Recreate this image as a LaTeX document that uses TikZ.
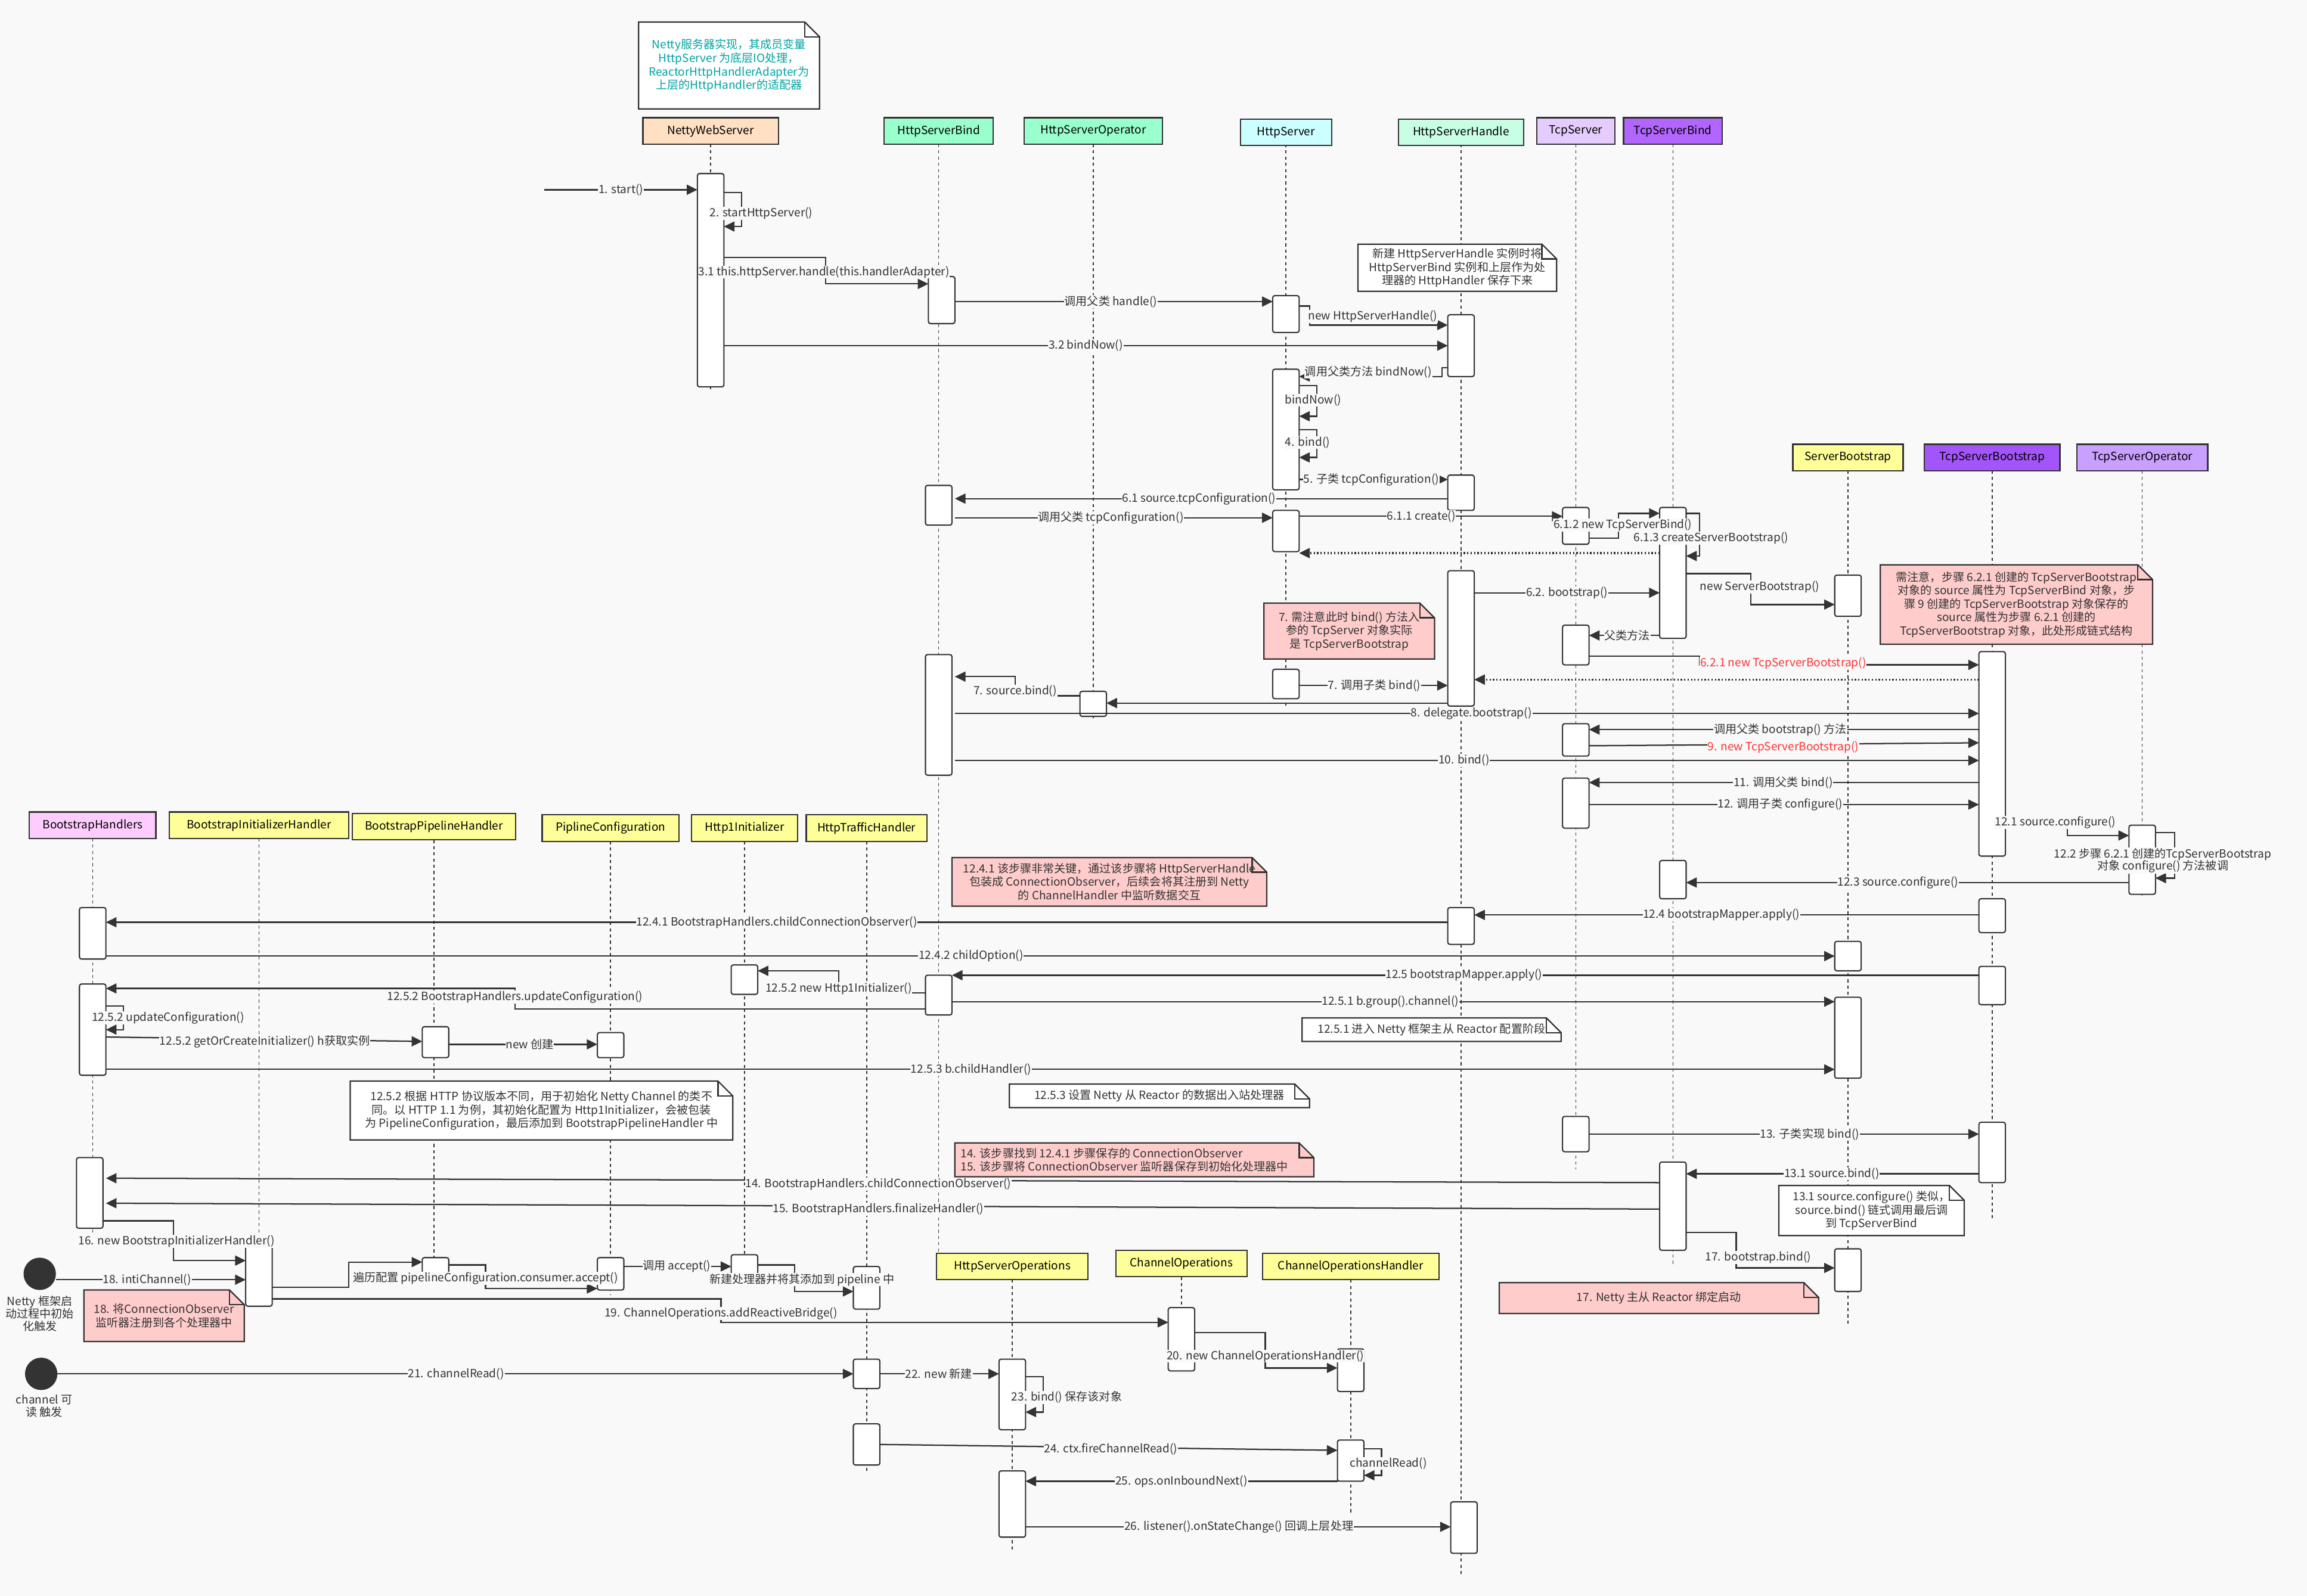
\documentclass[tikz,border=0pt]{standalone}
\usepackage{fontspec}
\setmainfont{Noto Sans CJK SC}
\usetikzlibrary{arrows.meta,shapes.misc}
\definecolor{bg}{HTML}{F9F9F9}
\definecolor{peach}{HTML}{FFE0C2}
\definecolor{mint}{HTML}{99FFCC}
\definecolor{mintl}{HTML}{C8FFE4}
\definecolor{cyanl}{HTML}{CCFFFF}
\definecolor{lav}{HTML}{E5CCFF}
\definecolor{purp}{HTML}{B266FF}
\definecolor{purpd}{HTML}{A455FA}
\definecolor{purpl}{HTML}{C9A0FF}
\definecolor{pinkh}{HTML}{FFCCFF}
\definecolor{yel}{HTML}{FFFF99}
\definecolor{notep}{HTML}{FFCCCC}
\definecolor{tealt}{HTML}{00A3A3}
\definecolor{ln}{HTML}{333333}
\definecolor{redt}{HTML}{FF3333}
\tikzset{
 head/.style={draw=ln,line width=1.3pt,minimum height=0.9cm,inner sep=1pt,font=\fontsize{11}{12}\selectfont},
 act/.style={draw=ln,fill=white,rounded corners=2pt,line width=1.2pt},
 life/.style={draw=ln,dashed,dash pattern=on 3pt off 3pt,line width=0.9pt},
 msg/.style={draw=ln,line width=1.3pt,-{Triangle[length=0.36cm,width=0.34cm]}},
 ret/.style={msg,dotted,line width=1.8pt},
 lbl/.style={fill=bg,inner sep=0.5pt,font=\fontsize{11}{12}\selectfont,text=ln},
 note/.style={draw=ln,line width=1.2pt,align=center,font=\fontsize{11}{13}\selectfont,inner sep=3pt,text=ln},
}
\newcommand{\hdx}[6]{\node[head,fill=#5,minimum width=#4*0.05cm] (#1) at (#2,#3) {#6};}
\newcommand{\lfl}[3]{\draw[life] (#1,#2) -- (#1,#3);}
\newcommand{\acx}[3]{\draw[act] ({#1-9},#2) rectangle ({#1+9},#3);}
\newcommand{\msgx}[5]{\draw[msg] (#1,#3) -- (#2,#3); \node[lbl] at (#4,#3) {#5};}
\newcommand{\slx}[5]{\draw[msg] (#1,#2) -- ({#1+12},#2) -- ({#1+12},#3) -- (#1,#3); \node[lbl,anchor=west] at ({#1-10},#4) {#5};}
\newcommand{\ntx}[7]{\draw[#6,line width=1.3pt,fill=#5] (#1,#2) -- ({#3-10},#2) -- (#3,{#2+10}) -- (#3,#4) -- (#1,#4) -- cycle; \draw[#6,line width=1.3pt] ({#3-10},#2) -- ({#3-10},{#2+10}) -- (#3,{#2+10}); \node[note,draw=none] at ({(#1+#3)/2},{(#2+#4)/2}) {#7};}
\begin{document}
\begin{tikzpicture}[x=0.05cm,y=-0.05cm]
\fill[bg] (0,0) rectangle (1568,1085);
\useasboundingbox (0,0) rectangle (1568,1085);
% lifelines
\lfl{483}{98}{265}\lfl{638}{98}{860}\lfl{743}{98}{490}\lfl{874}{98}{480}
\lfl{993}{98}{1070}\lfl{1071}{98}{795}\lfl{1137}{98}{860}
\lfl{1256}{320}{900}\lfl{1354}{320}{830}\lfl{1456}{320}{610}
\lfl{63}{570}{845}\lfl{176}{570}{890}\lfl{295}{571}{870}\lfl{415}{572}{880}
\lfl{506}{572}{870}\lfl{589}{572}{1000}
\lfl{688}{870}{1055}\lfl{803}{868}{930}\lfl{918}{870}{1030}
% headers
\hdx{nws}{483}{89}{92}{peach}{NettyWebServer}
\hdx{hsb}{638}{89}{74}{mint}{HttpServerBind}
\hdx{hso}{743}{89}{94}{mint}{HttpServerOperator}
\hdx{hs}{874}{90}{62}{cyanl}{HttpServer}
\hdx{hsh}{993}{90}{85}{mintl}{HttpServerHandle}
\hdx{ts}{1071}{89}{53}{lav}{TcpServer}
\hdx{tsb}{1137}{89}{67}{purp}{TcpServerBind}
\hdx{sb}{1256}{311}{75}{yel}{ServerBootstrap}
\hdx{tsbs}{1354}{311}{92}{purpd}{TcpServerBootstrap}
\hdx{tso}{1456}{311}{89}{purpl}{TcpServerOperator}
\hdx{bh}{63}{561}{86}{pinkh}{BootstrapHandlers}
\hdx{bih}{176}{561}{122}{yel}{BootstrapInitializerHandler}
\hdx{bph}{295}{562}{111}{yel}{BootstrapPipelineHandler}
\hdx{pc}{415}{563}{93}{yel}{PiplineConfiguration}
\hdx{h1}{506}{563}{72}{yel}{Http1Initializer}
\hdx{htf}{589}{563}{82}{yel}{HttpTrafficHandler}
\hdx{hsops}{688}{861}{103}{yel}{HttpServerOperations}
\hdx{cops}{803}{859}{89}{yel}{ChannelOperations}
\hdx{coh}{918}{861}{120}{yel}{ChannelOperationsHandler}
% activations
\acx{483}{118}{263}
\acx{640}{188}{220}\acx{638}{330}{357}\acx{638}{445}{527}\acx{638}{663}{690}
\acx{743}{470}{487}
\acx{874}{201}{226}\acx{874}{251}{333}\acx{874}{347}{375}\acx{874}{455}{475}
\acx{993}{214}{256}\acx{993}{323}{347}\acx{993}{388}{480}\acx{993}{617}{642}\acx{995}{1021}{1056}
\acx{1071}{345}{370}\acx{1071}{425}{452}\acx{1071}{492}{514}\acx{1071}{529}{563}\acx{1071}{759}{783}
\acx{1137}{345}{434}\acx{1137}{585}{611}\acx{1137}{790}{850}
\acx{1256}{391}{419}\acx{1256}{640}{660}\acx{1256}{678}{733}\acx{1256}{849}{878}
\acx{1354}{443}{582}\acx{1354}{611}{634}\acx{1354}{657}{683}\acx{1354}{763}{804}
\acx{1456}{561}{608}
\acx{63}{617}{652}\acx{63}{669}{731}\acx{61}{787}{835}
\acx{176}{840}{888}
\acx{296}{698}{719}\acx{296}{855}{868}
\acx{415}{702}{719}\acx{415}{855}{877}
\acx{506}{656}{676}\acx{506}{853}{867}
\acx{589}{861}{890}\acx{589}{924}{944}\acx{589}{968}{996}
\acx{688}{924}{972}\acx{688}{1000}{1045}
\acx{803}{889}{932}
\acx{918}{917}{946}\acx{918}{979}{1007}
% messages
\msgx{370}{474}{129}{422}{1. start()}
\slx{492}{131}{154}{145}{2. startHttpServer()}
\draw[msg] (492,175) -- (561,175) -- (561,193) -- (631,193); \node[lbl] at (560,185) {3.1 this.httpServer.handle(this.handlerAdapter)};
\msgx{649}{865}{205}{755}{调用父类 handle()}
\draw[msg] (883,208) -- (890,208) -- (890,221) -- (984,221); \node[lbl] at (933,215) {new HttpServerHandle()};
\msgx{492}{984}{235}{738}{3.2 bindNow()}
\draw[msg] (984,250) -- (980,250) -- (980,256) -- (883,256); \node[lbl] at (930,253) {调用父类方法 bindNow()};
\slx{883}{262}{283}{272}{bindNow()}
\slx{883}{292}{311}{301}{4. bind()}
\draw[msg] (883,326) -- (984,326); \node[lbl] at (932,326) {5. 子类 tcpConfiguration()};
\msgx{984}{649}{339}{815}{6.1 source.tcpConfiguration()}
\msgx{649}{865}{352}{755}{调用父类 tcpConfiguration()}
\msgx{883}{1062}{351}{966}{6.1.1 create()}
\draw[msg] (1080,366) -- (1100,366) -- (1100,349) -- (1128,349); \node[lbl] at (1103,357) {6.1.2 new TcpServerBind()};
\draw[msg] (1146,349) -- (1155,349) -- (1155,378) -- (1146,378); \node[lbl] at (1163,366) {6.1.3 createServerBootstrap()};
\draw[ret] (1128,376) -- (883,376);
\msgx{1002}{1128}{403}{1065}{6.2. bootstrap()}
\draw[msg] (1146,390) -- (1190,390) -- (1190,411) -- (1247,411); \node[lbl] at (1196,399) {new ServerBootstrap()};
\msgx{1128}{1080}{432}{1106}{父类方法}
\draw[msg] (1080,446) -- (1155,446) -- (1155,452) -- (1345,452); \node[lbl,text=redt] at (1212,451) {6.2.1 new TcpServerBootstrap()};
\draw[ret] (1345,462) -- (1002,462);
\msgx{883}{984}{466}{934}{7. 调用子类 bind()}
\draw[msg] (734,473) -- (690,473) -- (690,460) -- (649,460); \node[lbl] at (690,470) {7. source.bind()};
\draw[msg] (984,478) -- (752,478);
\msgx{649}{1345}{485}{1000}{8. delegate.bootstrap()}
\msgx{1345}{1080}{496}{1210}{调用父类 bootstrap() 方法}
\draw[msg] (1080,507) -- (1345,505); \node[lbl,text=redt] at (1212,508) {9. new TcpServerBootstrap()};
\msgx{649}{1345}{517}{995}{10. bind()}
\msgx{1345}{1080}{532}{1212}{11. 调用父类 bind()}
\msgx{1080}{1345}{547}{1210}{12. 调用子类 configure()}
\draw[msg] (1363,555) -- (1405,555) -- (1405,568) -- (1447,568); \node[lbl] at (1397,559) {12.1 source.configure()};
\draw[msg] (1465,566) -- (1478,566) -- (1478,597) -- (1465,597); \node[lbl,align=center] at (1470,585) {12.2 步骤 6.2.1 创建的TcpServerBootstrap\\对象 configure() 方法被调};
\msgx{1447}{1146}{600}{1290}{12.3 source.configure()}
\msgx{1345}{1002}{622}{1170}{12.4 bootstrapMapper.apply()}
\msgx{984}{72}{627}{528}{12.4.1 BootstrapHandlers.childConnectionObserver()}
\msgx{72}{1247}{650}{660}{12.4.2 childOption()}
\msgx{1345}{647}{663}{995}{12.5 bootstrapMapper.apply()}
\draw[msg] (629,675) -- (570,675) -- (570,660) -- (515,660); \node[lbl] at (570,672) {12.5.2 new Http1Initializer()};
\draw[msg] (629,686) -- (350,686) -- (350,672) -- (72,672); \node[lbl] at (350,678) {12.5.2 BootstrapHandlers.updateConfiguration()};
\msgx{647}{1247}{681}{945}{12.5.1 b.group().channel()}
\slx{72}{684}{700}{692}{12.5.2 updateConfiguration()}
\draw[msg] (72,705) -- (287,708); \node[lbl] at (180,708) {12.5.2 getOrCreateInitializer() h获取实例};
\msgx{305}{406}{710}{360}{new 创建}
\msgx{72}{1247}{727}{660}{12.5.3 b.childHandler()}
\msgx{1080}{1345}{771}{1230}{13. 子类实现 bind()}
\msgx{1345}{1146}{798}{1245}{13.1 source.bind()}
\draw[msg] (1128,804) -- (72,801); \node[lbl] at (597,805) {14. BootstrapHandlers.childConnectionObserver()};
\draw[msg] (1128,822) -- (72,818); \node[lbl] at (597,822) {15. BootstrapHandlers.finalizeHandler()};
\draw[msg] (70,830) -- (118,830) -- (118,857) -- (167,857); \node[lbl] at (120,844) {16. new BootstrapInitializerHandler()};
\draw[msg] (1146,838) -- (1180,838) -- (1180,862) -- (1247,862); \node[lbl] at (1195,855) {17. bootstrap.bind()};
\fill[ln] (27,866) circle (11);
\fill[ln] (28,934) circle (11);
\msgx{38}{167}{870}{100}{18. intiChannel()}
\draw[msg] (185,875) -- (237,875) -- (237,858) -- (287,858);
\draw[msg] (305,860) -- (330,860) -- (330,876) -- (406,876);
\node[lbl] at (330,869) {遍历配置 pipelineConfiguration.consumer.accept()};
\msgx{424}{497}{861}{460}{调用 accept()}
\draw[msg] (515,860) -- (540,860) -- (540,878) -- (580,878); \node[lbl] at (545,870) {新建处理器并将其添加到 pipeline 中};
\draw[msg] (185,883) -- (490,883) -- (490,899) -- (794,899); \node[lbl] at (490,893) {19. ChannelOperations.addReactiveBridge()};
\draw[msg] (812,906) -- (860,906) -- (860,930) -- (909,930); \node[lbl] at (860,922) {20. new ChannelOperationsHandler()};
\msgx{39}{580}{934}{310}{21. channelRead()}
\msgx{598}{679}{934}{638}{22. new 新建}
\slx{697}{936}{960}{950}{23. bind() 保存该对象}
\draw[msg] (598,982) -- (909,986); \node[lbl] at (755,985) {24. ctx.fireChannelRead()};
\slx{927}{985}{1003}{995}{channelRead()}
\msgx{909}{697}{1007}{803}{25. ops.onInboundNext()}
\msgx{697}{986}{1038}{842}{26. listener().onStateChange() 回调上层处理}
% notes
\ntx{434}{15}{557}{74}{white}{draw=ln}{\textcolor{tealt}{Netty服务器实现，其成员变量}\\\textcolor{tealt}{HttpServer 为底层IO处理，}\\\textcolor{tealt}{ReactorHttpHandlerAdapter为}\\\textcolor{tealt}{上层的HttpHandler的适配器}}
\ntx{923}{166}{1058}{198}{white}{draw=ln}{新建 HttpServerHandle 实例时将\\HttpServerBind 实例和上层作为处\\理器的 HttpHandler 保存下来}
\ntx{859}{410}{975}{448}{notep}{draw=ln}{7. 需注意此时 bind() 方法入\\参的 TcpServer 对象实际\\是 TcpServerBootstrap}
\ntx{1278}{384}{1463}{438}{notep}{draw=ln}{需注意，步骤 6.2.1 创建的 TcpServerBootstrap\\对象的 source 属性为 TcpServerBind 对象，步\\骤 9 创建的 TcpServerBootstrap 对象保存的\\source 属性为步骤 6.2.1 创建的\\TcpServerBootstrap 对象，此处形成链式结构}
\ntx{647}{583}{861}{616}{notep}{draw=ln}{12.4.1 该步骤非常关键，通过该步骤将 HttpServerHandle\\包装成 ConnectionObserver，后续会将其注册到 Netty\\的 ChannelHandler 中监听数据交互}
\ntx{885}{692}{1061}{708}{white}{draw=ln}{12.5.1 进入 Netty 框架主从 Reactor 配置阶段}
\ntx{238}{735}{498}{775}{white}{draw=ln}{12.5.2 根据 HTTP 协议版本不同，用于初始化 Netty Channel 的类不\\同。以 HTTP 1.1 为例，其初始化配置为 Http1Initializer，会被包装\\为 PipelineConfiguration，最后添加到 BootstrapPipelineHandler 中}
\ntx{686}{737}{890}{753}{white}{draw=ln}{12.5.3 设置 Netty 从 Reactor 的数据出入站处理器}
\ntx{649}{777}{893}{800}{notep}{draw=ln}{\parbox{11.8cm}{14. 该步骤找到 12.4.1 步骤保存的 ConnectionObserver\\15. 该步骤将 ConnectionObserver 监听器保存到初始化处理器中}}
\ntx{1209}{806}{1335}{840}{white}{draw=ln}{13.1 source.configure() 类似，\\source.bind() 链式调用最后调\\到 TcpServerBind}
\ntx{1019}{872}{1236}{893}{notep}{draw=ln}{17. Netty 主从 Reactor 绑定启动}
\ntx{57}{877}{166}{912}{notep}{draw=ln}{18. 将ConnectionObserver\\监听器注册到各个处理器中}
\node[lbl,align=center] (c1) at (27,893) {Netty 框架启\\动过程中初始\\化触发};
\node[lbl,align=center] (c2) at (30,956) {channel 可\\读 触发};
\end{tikzpicture}
\end{document}
